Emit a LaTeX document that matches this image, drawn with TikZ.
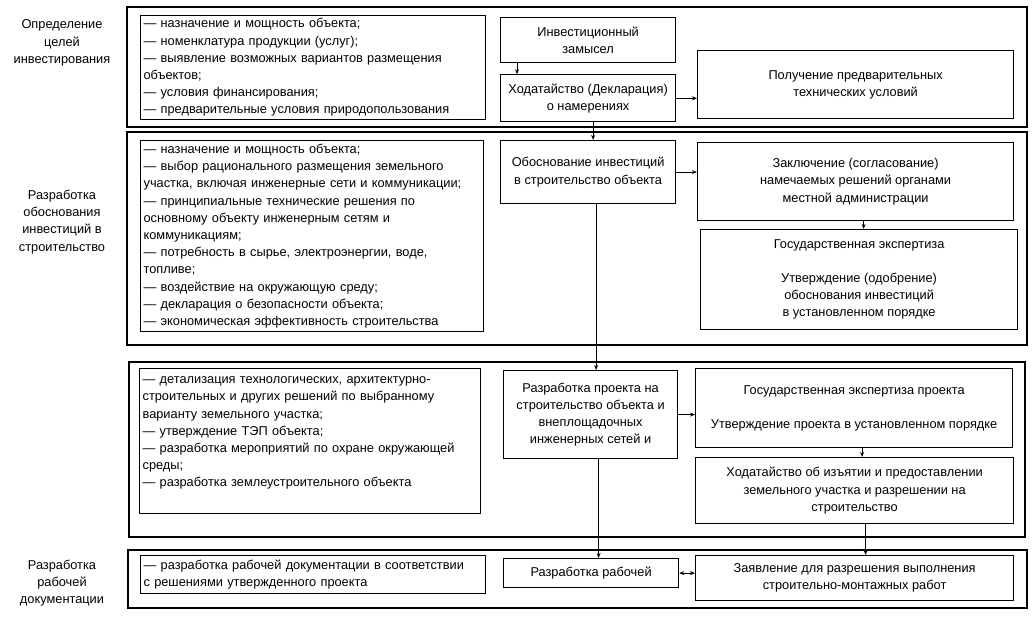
\documentclass[tikz,border=0pt]{standalone}
\usepackage{fontspec}
\setmainfont{Liberation Sans}
\usetikzlibrary{arrows.meta, positioning, calc}

\begin{document}
\begin{tikzpicture}[x=1pt, y=-1pt, font=\fontsize{12.8}{17.2}\selectfont, >=Stealth,
  stage/.style={draw, line width=1.3pt},
  box/.style={draw, line width=1.2pt, align=center, anchor=north west, inner sep=2pt},
  listbox/.style={draw, line width=1.2pt, align=left, anchor=north west, inner sep=3pt},
  stagename/.style={align=center},
  arr/.style={->, >={Stealth[length=5pt, width=4pt]}, line width=0.9pt}]
  \useasboundingbox (0,0) rectangle (1035,622);
  % Stages
  \draw[stage] (127,7) rectangle (1027,127);
  \draw[stage] (127,132) rectangle (1027,345);
  \draw[stage] (129,362) rectangle (1025,537);
  \draw[stage] (128,550) rectangle (1027,608);
  \node[stagename] (s1) at (62,43) {Определение\\целей\\инвестирования};
  \node[stagename] (s2) at (62,222) {Разработка\\обоснования\\инвестиций в\\строительство};
  \node[stagename] (s4) at (62,583) {Разработка\\рабочей\\документации};
  % Lists
  \node[listbox, text width=339pt, minimum height=103pt] (l1) at (140,15) {— назначение и мощность объекта;\\— номенклатура продукции (услуг);\\— выявление возможных вариантов размещения\\объектов;\\— условия финансирования;\\— предварительные условия природопользования};
  \node[listbox, text width=337pt, minimum height=191pt] (l2) at (140,140) {— назначение и мощность объекта;\\— выбор рационального размещения земельного\\участка, включая инженерные сети и коммуникации;\\— принципиальные технические решения по\\основному объекту инженерным сетям и\\коммуникациям;\\— потребность в сырье, электроэнергии, воде,\\топливе;\\— воздействие на окружающую среду;\\— декларация о безопасности объекта;\\— экономическая эффективность строительства};
  \node[listbox, text width=335pt, text height=12pt, text depth=127pt] (l3) at (139,368) {— детализация технологических, архитектурно-\\строительных и других решений по выбранному\\варианту земельного участка;\\— утверждение ТЭП объекта;\\— разработка мероприятий по охране окружающей\\среды;\\— разработка землеустроительного объекта};
  \node[listbox, text width=339pt, minimum height=38pt] (l4) at (140,555) {— разработка рабочей документации в соответствии\\с решениями утвержденного проекта};
  % Steps
  \node[box, minimum width=175pt, minimum height=45pt] (zam) at (500,17) {Инвестиционный\\замысел};
  \node[box, minimum width=175pt, minimum height=47pt, below=11pt of zam.south west, anchor=north west] (hod) {Ходатайство (Декларация)\\о намерениях};
  \node[box, minimum width=316pt, minimum height=68pt] (pol) at (697,50) {Получение предварительных\\технических условий};
  \node[box, minimum width=175pt, minimum height=63pt] (obos) at (500,140) {Обоснование инвестиций\\в строительство объекта};
  \node[box, minimum width=316pt, minimum height=78pt] (zakl) at (697,142) {Заключение (согласование)\\намечаемых решений органами\\местной администрации};
  \node[box, minimum width=317pt, minimum height=100pt] (gos) at (700,229) {Государственная экспертиза\\[17pt]Утверждение (одобрение)\\обоснования инвестиций\\в установленном порядке};
  \node[box, minimum width=174pt, minimum height=88pt] (proj) at (503,370) {Разработка проекта на\\строительство объекта и\\внеплощадочных\\инженерных сетей и};
  \node[box, minimum width=317pt, minimum height=79pt] (gep) at (695,368) {Государственная экспертиза проекта\\[17pt]Утверждение проекта в установленном порядке};
  \node[box, minimum width=318pt, minimum height=66pt] (hod2) at (695,457) {Ходатайство об изъятии и предоставлении\\земельного участка и разрешении на\\строительство};
  \node[box, minimum width=175pt, minimum height=29pt] (rab) at (503,558) {Разработка рабочей};
  \node[box, minimum width=318pt, minimum height=45pt] (zayav) at (695,555) {Заявление для разрешения выполнения\\строительно-монтажных работ};
  % Links
  \draw[arr] ([xshift=17pt]zam.south west) -- ([xshift=17pt]hod.north west);
  \draw[arr] (hod.east) -- (hod.east -| pol.west);
  \draw[arr] ([xshift=5pt]hod.south) -- ([xshift=5pt]hod.south |- obos.north);
  \draw[arr] (obos.east) -- (obos.east -| zakl.west);
  \draw[arr] ([xshift=8pt]zakl.south) -- ([xshift=8pt]zakl.south |- gos.north);
  \draw[arr] ([xshift=8pt]obos.south) -- ([xshift=8pt]obos.south |- proj.north);
  \draw[arr] (proj.east) -- (proj.east -| gep.west);
  \draw[arr] ([xshift=8pt]gep.south) -- ([xshift=8pt]gep.south |- hod2.north);
  \draw[arr, line width=1.4pt] ([xshift=11pt]hod2.south) -- ([xshift=11pt]hod2.south |- zayav.north);
  \draw[arr] ([xshift=8pt]proj.south) -- ([xshift=8pt]proj.south |- rab.north);
  \draw[arr, <->] (rab.east) -- (rab.east -| zayav.west);
\end{tikzpicture}
\end{document}
